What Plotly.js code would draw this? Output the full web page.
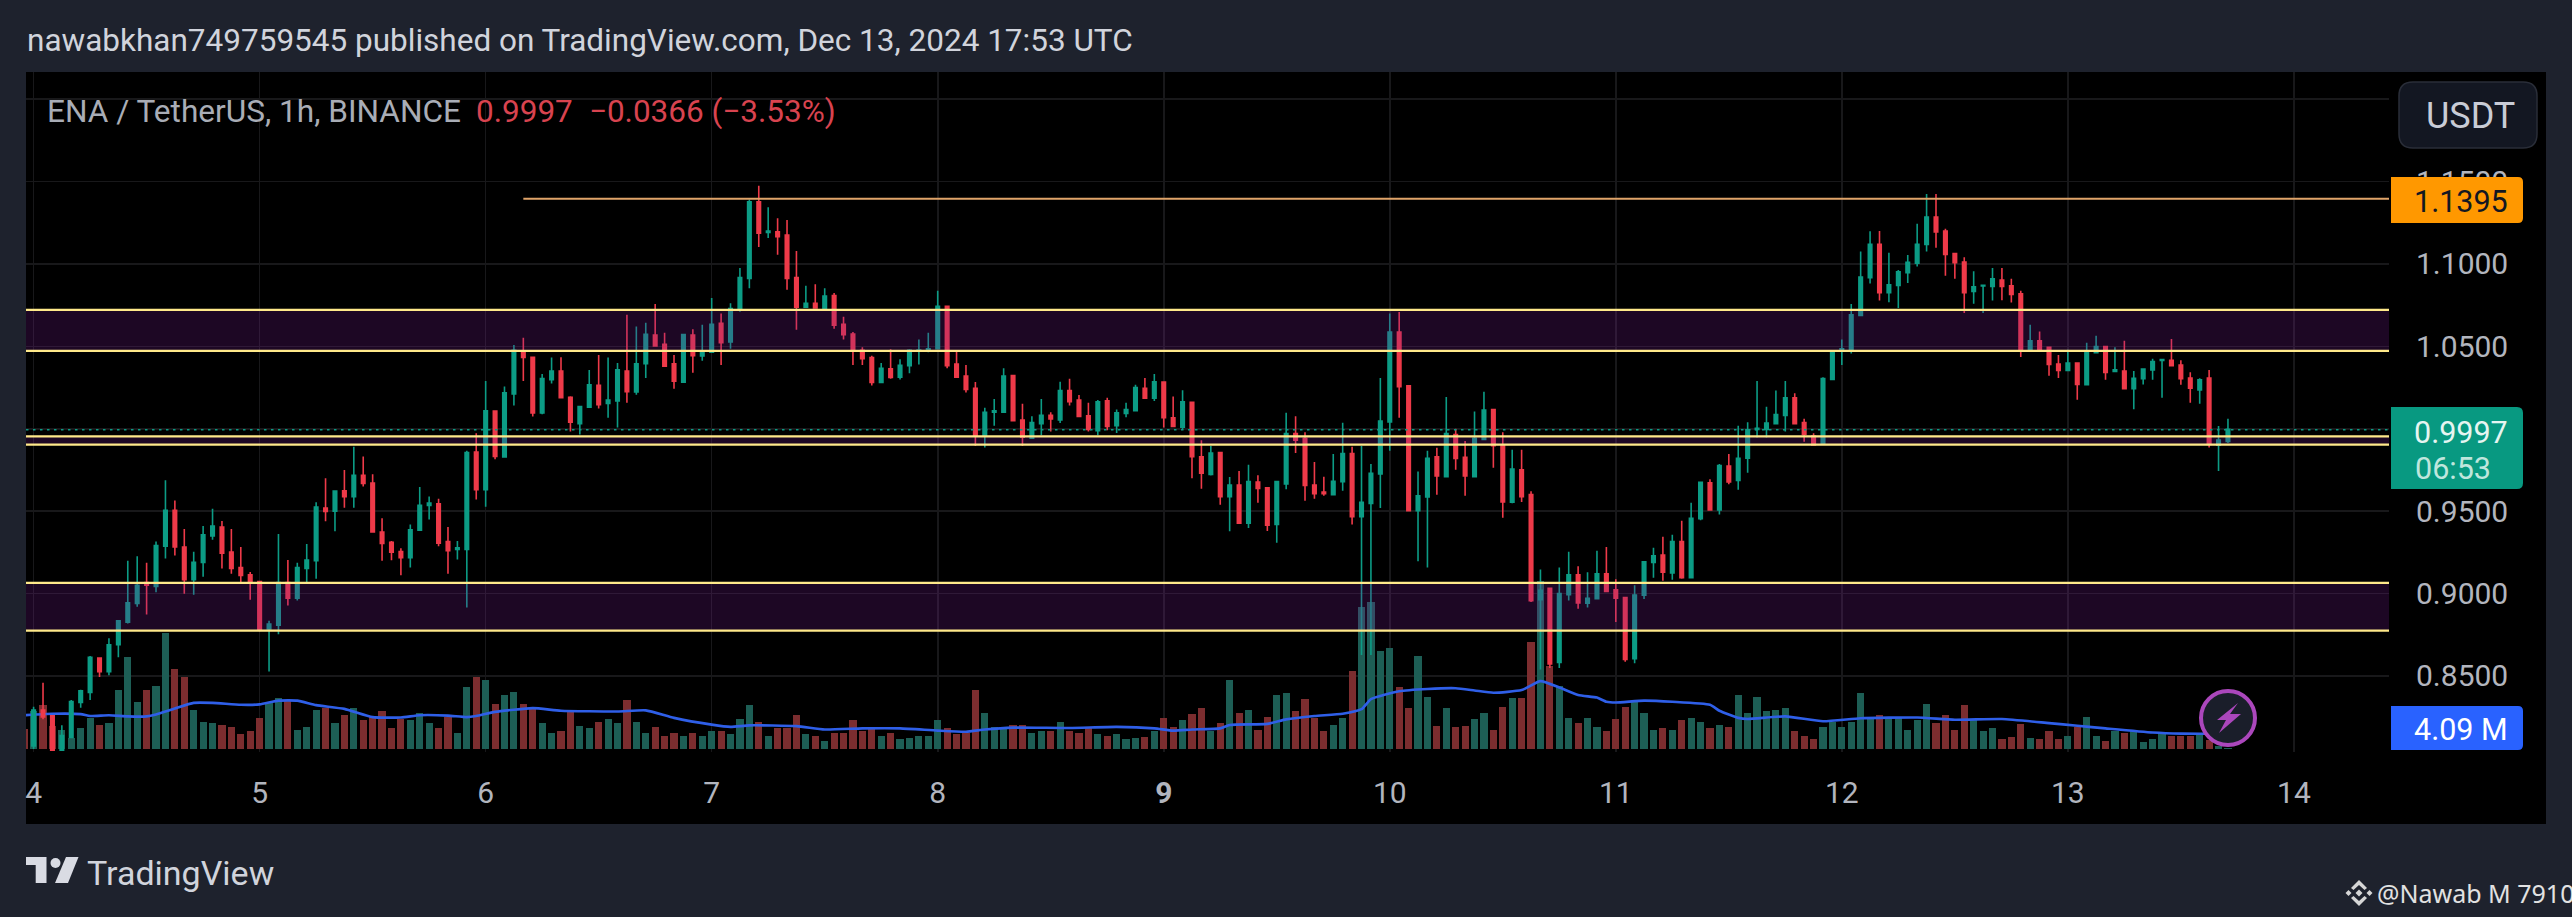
<!DOCTYPE html>
<html><head><meta charset="utf-8">
<script src="https://cdn.plot.ly/plotly-3.0.1.min.js"></script>
<style>html,body{margin:0;padding:0;background:#1e222d;overflow:hidden}#c{width:2572px;height:917px}</style>
</head><body><div id="c"></div>
<script>
const open=[.8075,.8293,.8258,.8049,.8126,.8339,.8399,.8608,.8525,.8689,.8826,.8939,.9066,.9043,.9287,.9505,.9282,.9083,.9189,.9349,.9403,.9252,.9157,.9113,.9073,.8785,.8808,.9066,.8971,.9152,.9199,.9519,.9500,.9623,.9588,.9718,.9670,.9373,.9310,.9254,.9217,.9384,.9535,.9544,.9315,.9268,.9268,.9858,.9630,1.0107,.9828,1.0211,1.0471,1.0434,1.0095,1.0297,1.0350,1.0190,1.0030,1.0130,1.0264,1.0153,1.0169,1.0350,1.0223,1.0394,1.0568,1.0513,1.0394,1.0283,1.0568,1.0441,1.0464,1.0640,1.0527,1.0721,1.0912,1.1377,1.1191,1.1195,1.1175,1.0917,1.0738,1.0761,1.0731,1.0808,1.0634,1.0575,1.0476,1.0432,1.0281,1.0364,1.0313,1.0383,1.0471,1.0476,1.0485,1.0743,1.0392,1.0320,1.0246,.9956,1.0100,1.0100,1.0322,1.0053,.9942,1.0030,1.0081,1.0053,1.0232,1.0174,1.0079,.9988,1.0169,1.0018,1.0093,1.0109,1.0246,1.0185,1.0283,1.0067,1.0009,1.0160,.9830,.9723,.9856,.9588,.9658,.9426,.9677,.9642,.9419,.9665,.9970,.9942,.9658,.9616,.9600,.9679,.9849,.9466,.9547,.9726,1.0041,1.0587,1.0260,.9503,.9586,.9830,.9709,.9965,.9826,.9709,.9935,1.0116,.9902,.9554,.9751,.9600,.8962,.9031,.8581,.8992,.9113,.8941,.8969,.9120,.9022,.8976,.8604,.8990,.9189,.9233,.9124,.9315,.9096,.9454,.9672,.9507,.9774,.9686,.9821,.9995,.9995,1.0030,1.0081,1.0188,1.0037,.9956,.9907,1.0299,1.0476,1.0478,1.0687,1.0917,1.1119,1.0826,1.0870,1.0947,1.1005,1.1119,1.1284,1.1200,1.1063,1.1012,1.0833,1.0866,1.0863,1.0903,1.0868,1.0819,1.0473,1.0534,1.0494,1.0392,1.0353,1.0399,1.0267,1.0462,1.0499,1.0348,1.0350,1.0243,1.0304,1.0357,1.0415,1.0415,1.0387,1.0308,1.0236,1.0308,.9900,.9923];
const close=[.8293,.8251,.8049,.8138,.8344,.8409,.8613,.8525,.8688,.8834,.8943,.9050,.9050,.9291,.9505,.9282,.9083,.9189,.9356,.9410,.9245,.9152,.9110,.9069,.8781,.8815,.9066,.8971,.9157,.9203,.9524,.9498,.9621,.9588,.9718,.9668,.9373,.9303,.9250,.9217,.9387,.9535,.9549,.9305,.9259,.9277,.9856,.9630,1.0109,.9832,1.0218,1.0476,1.0432,1.0095,1.0304,1.0350,1.0188,1.0039,1.0134,1.0267,1.0146,1.0174,1.0357,1.0225,1.0394,1.0573,1.0503,1.0380,1.0288,1.0571,1.0443,1.0464,1.0634,1.0522,1.0729,1.0917,1.1377,1.1186,1.1200,1.1165,1.0912,1.0738,1.0761,1.0733,1.0805,1.0629,1.0571,1.0476,1.0425,1.0281,1.0367,1.0311,1.0385,1.0476,1.0478,1.0485,1.0743,1.0383,1.0313,1.0239,.9956,1.0100,1.0109,1.0320,1.0048,.9949,1.0037,1.0081,1.0060,1.0232,1.0164,1.0074,.9995,1.0164,1.0014,1.0097,1.0116,1.0250,1.0185,1.0285,1.0067,1.0014,1.0164,.9830,.9730,.9853,.9588,.9658,.9426,.9679,.9637,.9414,.9679,.9970,.9930,.9656,.9605,.9605,.9681,.9849,.9466,.9554,.9730,1.0046,1.0587,1.0255,.9503,.9593,.9821,.9714,.9970,.9819,.9714,.9942,1.0113,.9897,.9556,.9756,.9588,.8957,.9020,.8572,.8999,.9113,.8943,.8971,.9120,.9013,.8971,.8600,.8990,.9192,.9229,.9129,.9315,.9096,.9456,.9675,.9507,.9777,.9677,.9821,.9993,1.0002,1.0034,1.0086,1.0188,1.0030,.9965,.9902,1.0304,1.0471,1.0485,1.0692,1.0921,1.1119,1.0826,1.0873,1.0952,1.1010,1.1119,1.1284,1.1195,1.1058,1.1007,1.0826,1.0861,1.0870,1.0910,1.0863,1.0815,1.0476,1.0534,1.0483,1.0390,1.0353,1.0399,1.0269,1.0473,1.0499,1.0341,1.0357,1.0243,1.0306,1.0362,1.0408,1.0420,1.0383,1.0304,1.0246,1.0297,.9904,.9932,.9997];
const high=[.8312,.8458,.8258,.8200,.8353,.8416,.8620,.8613,.8729,.8834,.9199,.9226,.9187,.9315,.9688,.9565,.9391,.9254,.9410,.9514,.9440,.9391,.9282,.9131,.9078,.8834,.9361,.9203,.9187,.9301,.9554,.9700,.9623,.9749,.9891,.9832,.9723,.9456,.9319,.9275,.9419,.9647,.9588,.9575,.9403,.9319,.9867,.9972,1.0290,1.0109,1.0257,1.0508,1.0552,1.0434,1.0332,1.0432,1.0434,1.0197,1.0137,1.0357,1.0448,1.0432,1.0399,1.0692,1.0620,1.0643,1.0757,1.0582,1.0448,1.0575,1.0603,1.0631,1.0794,1.0699,1.0761,1.0975,1.1391,1.1474,1.1344,1.1277,1.1267,1.1079,1.0868,1.0877,1.0852,1.0824,1.0680,1.0587,1.0494,1.0443,1.0399,1.0483,1.0422,1.0483,1.0541,1.0582,1.0838,1.0743,1.0471,1.0387,1.0283,1.0127,1.0181,1.0367,1.0325,1.0151,1.0076,1.0181,1.0100,1.0285,1.0304,1.0204,1.0158,1.0174,1.0188,1.0116,1.0158,1.0267,1.0308,1.0332,1.0285,1.0195,1.0234,1.0162,.9930,.9895,.9858,.9707,.9744,.9781,.9718,.9644,.9681,1.0097,1.0076,.9979,.9798,.9709,.9846,1.0037,.9891,.9895,.9786,1.0308,1.0699,1.0708,1.0262,.9740,.9867,.9884,1.0192,1.0000,.9925,1.0104,1.0225,1.0118,.9979,.9872,.9872,.9621,.9145,.9031,.9157,.9254,.9166,.9129,.9259,.9282,.9087,.8978,.9050,.9194,.9277,.9345,.9356,.9442,.9551,.9677,.9693,.9786,.9846,1.0018,1.0039,1.0290,1.0134,1.0232,1.0290,1.0216,1.0060,.9972,1.0313,1.0476,1.0541,1.0757,1.1075,1.1198,1.1200,1.1068,1.0963,1.1054,1.1244,1.1425,1.1425,1.1214,1.1068,1.1040,1.0956,1.0873,1.0975,1.0975,1.0910,1.0838,1.0631,1.0590,1.0499,1.0448,1.0480,1.0399,1.0522,1.0564,1.0501,1.0494,1.0534,1.0350,1.0367,1.0425,1.0425,1.0545,1.0415,1.0343,1.0306,1.0357,1.0016,1.0060];
const low=[.8056,.8237,.8044,.8044,.8121,.8307,.8353,.8493,.8504,.8613,.8818,.8920,.8873,.9008,.9212,.9231,.8999,.8992,.9101,.9326,.9152,.9120,.9069,.8962,.8771,.8527,.8753,.8927,.8957,.9066,.9089,.9438,.9377,.9521,.9521,.9649,.9368,.9199,.9201,.9110,.9157,.9384,.9449,.9287,.9120,.9206,.8915,.9570,.9526,.9814,.9826,1.0141,1.0290,1.0074,1.0088,1.0274,1.0183,.9983,.9965,1.0127,1.0123,1.0067,1.0007,1.0158,1.0206,1.0308,1.0501,1.0376,1.0243,1.0281,1.0339,1.0413,1.0462,1.0387,1.0485,1.0710,1.0852,1.1103,1.1158,1.1056,1.0843,1.0601,1.0733,1.0731,1.0726,1.0606,1.0541,1.0387,1.0387,1.0262,1.0278,1.0304,1.0299,1.0336,1.0390,1.0464,1.0483,1.0367,1.0308,1.0220,.9895,.9886,1.0018,1.0097,1.0046,.9895,.9939,.9960,.9983,1.0034,1.0141,1.0072,.9983,.9960,.9990,.9974,1.0069,1.0109,1.0181,1.0169,1.0007,1.0011,.9995,.9700,.9635,.9716,.9538,.9377,.9424,.9398,.9551,.9380,.9308,.9633,.9853,.9563,.9575,.9593,.9598,.9623,.9419,.8627,.8627,.9519,.9867,1.0067,.9500,.9196,.9157,.9600,.9705,.9751,.9593,.9707,.9932,.9763,.9459,.9547,.9556,.8948,.8539,.8548,.8548,.8957,.8908,.8915,.8964,.9010,.8827,.8586,.8576,.8966,.9096,.9078,.9083,.9089,.9092,.9445,.9503,.9480,.9663,.9630,.9733,.9946,.9946,1.0025,.9983,1.0025,.9921,.9897,.9904,1.0297,1.0387,1.0457,1.0685,1.0882,1.0778,1.0768,1.0733,1.0884,1.0984,1.1075,1.1098,1.0928,1.0910,1.0703,1.0759,1.0703,1.0778,1.0780,1.0766,1.0436,1.0471,1.0471,1.0322,1.0308,1.0350,1.0176,1.0264,1.0457,1.0297,1.0346,1.0243,1.0118,1.0269,1.0297,1.0188,1.0378,1.0267,1.0158,1.0151,.9886,.9744,.9914];
// volume in millions; the first value is the partly visible bar before the first candle
const volume=[5.4,10.0,11.8,6.1,5.2,2.9,5.6,8.2,6.4,7.0,15.6,24.6,12.4,15.6,16.9,30.8,21.4,19.2,10.5,7.3,7.0,6.5,5.9,4.0,4.9,8.2,12.2,13.5,12.9,5.2,6.0,10.3,11.0,6.8,9.0,10.8,7.7,8.4,10.0,5.5,7.9,7.7,9.7,6.8,5.7,8.5,4.4,16.4,19.1,18.4,12.1,14.3,15.3,12.1,11.0,6.8,4.4,4.9,10.3,6.2,5.7,7.3,7.9,7.0,13.0,7.3,4.4,6.0,3.6,4.2,3.6,4.2,3.4,4.7,4.7,4.0,7.9,11.6,7.2,3.6,5.5,5.7,9.0,4.0,3.6,2.2,4.2,4.4,7.7,4.7,5.5,3.6,4.2,2.6,2.9,3.6,3.4,7.7,5.5,4.0,4.4,15.6,9.5,5.9,5.5,6.5,6.5,4.4,4.9,4.9,7.3,4.7,4.4,5.5,4.0,3.6,4.0,2.6,2.9,3.1,4.9,8.2,6.0,7.7,9.2,10.8,4.9,7.0,18.4,9.7,10.5,5.2,8.4,14.5,14.8,10.0,13.2,8.2,4.9,6.5,8.2,20.9,37.9,39.1,26.2,27.0,16.4,10.8,24.9,13.8,6.2,11.0,6.0,6.2,7.9,9.7,5.2,11.3,13.5,13.5,28.4,44.7,22.2,16.9,8.2,7.0,8.2,6.0,4.9,7.9,11.3,12.5,9.7,5.2,5.5,5.2,7.7,8.2,7.3,5.5,6.5,6.0,14.3,9.5,13.8,10.0,10.5,10.8,4.9,3.4,2.8,6.0,7.3,6.0,7.3,14.8,7.9,9.0,8.2,8.4,5.2,7.7,12.1,7.0,9.0,5.2,11.8,7.7,4.9,5.7,2.6,3.1,6.6,2.9,2.6,4.9,2.6,3.6,5.9,8.4,3.6,2.1,4.9,4.4,4.9,2.0,2.6,4.1,3.6,3.6,3.4,3.7,2.3,0.8,0.4];
// volume moving average, read at these hours after Dec 4 00:00
const maHours=[-1,2,5,6,8,10,12,13,15,17,19,22,24,26,28,30,33,36,39,41,44,46,47,49,53,56,62,65,68,72,74,76,81,84,88,92,96,99,101,104,110,115,119,121,123,126,127,131,133,136,139,141,142,145,148,151,153,155,158,160,162,164,166,167,168,171,174,178,179,181,182,186,190,194,200,204,209,214,217,220,225,228,233];
const maValues=[9.0,9.4,9.3,8.8,9.0,8.7,8.7,9.2,10.8,12.3,12.3,11.8,11.9,12.9,12.9,11.7,10.7,8.5,8.4,9.0,8.9,8.5,8.8,9.9,10.9,10.2,10.0,10.3,8.3,6.5,5.9,6.3,6.1,5.2,5.5,5.5,4.9,4.6,5.2,5.7,5.6,5.9,5.5,4.9,5.2,5.5,6.4,6.7,7.9,8.8,9.4,10.6,13.3,15.4,16.0,16.2,15.6,15.0,15.7,18.1,16.4,14.4,13.7,12.6,12.4,12.9,12.6,11.8,10.2,8.3,8.0,8.7,7.4,8.2,8.4,7.8,8.0,6.9,6.2,5.5,4.4,4.1,4.09];
const dayTickHours=[0,24,48,72,96,120,144,168,192,216,240];
const dayLabels=['4','5','6','7','8','<b>9</b>','10','11','12','13','14'];
const priceTicks=[0.85,0.9,0.95,1.0,1.05,1.1,1.15,1.2];
const priceLabels=['0.8500','0.9000','0.9500','','1.0500','1.1000','1.1500',''];
const zoneBands=[[1.0473,1.0721],[.9904,.9953],[.8775,.9065]];
const resistance=1.1395, resistanceStartHour=52, lastPrice=0.9994;

const UP='#0c9c85', DOWN='#ee3a49', L=26,R=2389,T=72,B=752;
const hours=open.map((_,i)=>i);
const px=x=>(x-L)/(R-L), py=y=>(B-y)/(B-T);
const volHours=volume.map((_,i)=>i-1);
const volColors=volume.map((_,i)=>{const k=i-1;return (k>=0&&close[k]>=open[k])?'#1d5e55':'#7c2d2f';});

function rectPath(x0,y0,x1,y1,r){ // right-rounded chrome tag
  return `M${px(x0)},${py(y0)}L${px(x1-r)},${py(y0)}Q${px(x1)},${py(y0)} ${px(x1)},${py(y0+r)}L${px(x1)},${py(y1-r)}Q${px(x1)},${py(y1)} ${px(x1-r)},${py(y1)}L${px(x0)},${py(y1)}Z`;
}
function roundPath(x0,y0,x1,y1,r){
  return `M${px(x0+r)},${py(y0)}L${px(x1-r)},${py(y0)}Q${px(x1)},${py(y0)} ${px(x1)},${py(y0+r)}L${px(x1)},${py(y1-r)}Q${px(x1)},${py(y1)} ${px(x1-r)},${py(y1)}L${px(x0+r)},${py(y1)}Q${px(x0)},${py(y1)} ${px(x0)},${py(y1-r)}L${px(x0)},${py(y0+r)}Q${px(x0)},${py(y0)} ${px(x0+r)},${py(y0)}Z`;
}
function poly(pts){return 'M'+pts.map(p=>px(p[0])+','+py(p[1])).join('L')+'Z';}
const chrome=(path,fill,extra)=>Object.assign({type:'path',xref:'paper',yref:'paper',path,fillcolor:fill,line:{width:0},layer:'above'},extra||{});

const shapes=[];
// black canvas
shapes.push({type:'rect',xref:'paper',yref:'paper',x0:px(26),x1:px(2546),y0:py(72),y1:py(824),fillcolor:'#000',line:{width:0},layer:'below'});
zoneBands.forEach(b=>{
  shapes.push({type:'rect',xref:'paper',yref:'y2',x0:0,x1:1,y0:b[0],y1:b[1],fillcolor:'rgba(120,30,150,0.24)',line:{width:0},layer:'above'});
  b.forEach(v=>shapes.push({type:'line',xref:'paper',yref:'y2',x0:0,x1:1,y0:v,y1:v,line:{color:'#ffe98a',width:2.2},layer:'above'}));
});
shapes.push({type:'line',xref:'x',yref:'y2',x0:resistanceStartHour,x1:251,y0:resistance,y1:resistance,line:{color:'#e0a46a',width:2},layer:'above'});
shapes.push({type:'line',xref:'paper',yref:'y2',x0:0,x1:1,y0:lastPrice,y1:lastPrice,line:{color:'#0c9c85',width:1.5,dash:'2.5px,4.5px'},layer:'above'});
// price tags and button
shapes.push(chrome(rectPath(2391,177,2523,223,5),'#ff9800'));
shapes.push(chrome(rectPath(2391,407,2523,489,6),'#089981'));
shapes.push(chrome(rectPath(2391,706,2523,750,5),'#2962ff'));
shapes.push(chrome(roundPath(2399,82,2537,148,14),'#131722',{line:{color:'#2a2e39',width:1.5}}));
// lightning badge
shapes.push({type:'circle',xref:'paper',yref:'paper',x0:px(2201),x1:px(2255),y0:py(745),y1:py(691),fillcolor:'#1a1e2a',line:{color:'#ab47bc',width:4},layer:'above'});
shapes.push(chrome(poly([[2238,703],[2217,720],[2226,720],[2219,733],[2241,714],[2230,714]]),'#ab47bc'));
// TradingView logo
shapes.push(chrome(poly([[26,857],[46.5,857],[46.5,883],[35.7,883],[35.7,865],[26,865]]),'#d9dbe3'));
shapes.push({type:'circle',xref:'paper',yref:'paper',x0:px(50.5),x1:px(60.5),y0:py(868),y1:py(858),fillcolor:'#d9dbe3',line:{width:0},layer:'above'});
shapes.push(chrome(poly([[66,857],[78.5,857],[68,883],[55,883]]),'#d9dbe3'));
// Binance-style watermark glyph
const cx=2359,cy=893,g='#d6d6d6';
shapes.push(chrome(poly([[cx,cy-3.5],[cx+3.5,cy],[cx,cy+3.5],[cx-3.5,cy]]),g));
shapes.push(chrome(poly([[cx-13.5,cy],[cx-10.5,cy-3],[cx-7.5,cy],[cx-10.5,cy+3]]),g));
shapes.push(chrome(poly([[cx+13.5,cy],[cx+10.5,cy-3],[cx+7.5,cy],[cx+10.5,cy+3]]),g));
shapes.push(chrome(poly([[cx,cy-13],[cx+8,cy-5],[cx+5.5,cy-3],[cx,cy-8],[cx-5.5,cy-3],[cx-8,cy-5]]),g));
shapes.push(chrome(poly([[cx,cy+13],[cx+8,cy+5],[cx+5.5,cy+3],[cx,cy+8],[cx-5.5,cy+3],[cx-8,cy+5]]),g));

const note=(text,x,y,size,color,anchor,family)=>({text,xref:'paper',yref:'paper',x:px(x),y:py(y),xanchor:anchor||'left',yanchor:'middle',showarrow:false,align:anchor||'left',borderpad:0,font:{family:family||'Roboto',size,color}});
const annotations=[
 note('nawabkhan749759545 published on TradingView.com, Dec 13, 2024 17:53 UTC',26,41,31.5,'#d1d4dc'),
 note('ENA / TetherUS, 1h, BINANCE',46,111,31.6,'#a9adb6'),
 note('0.9997\u2002\u22120.0366 (\u22123.53%)',475,111,31.5,'#d8434f'),
 note('USDT',2470,116,36,'#c9ccd6','center'),
 note('1.1395',2509,201,30.5,'#131722','right'),
 note('0.9997',2509,432,30.5,'#e6f5f1','right'),
 note('06:53',2414,469,30.5,'#bfe6dd'),
 note('4.09 M',2509,729,30.5,'#ffffff','right'),
 note('TradingView',86,873,34,'#d1d4dc'),
 note('@Nawab M 7910',2376,893,25,'#e2e2e2','left','Noto Sans')
];

const traces=[
 {type:'bar',x:volHours,y:volume,width:0.76,marker:{color:volColors,line:{width:0}},xaxis:'x',yaxis:'y',hoverinfo:'skip'},
 {type:'scatter',mode:'lines',x:maHours,y:maValues,line:{color:'#2f5fe8',width:2.6,shape:'spline',smoothing:0.5},xaxis:'x',yaxis:'y',hoverinfo:'skip'},
 {type:'candlestick',x:hours,open,high,low,close,xaxis:'x',yaxis:'y2',whiskerwidth:0,
  increasing:{line:{color:UP,width:1.6},fillcolor:UP},decreasing:{line:{color:DOWN,width:1.6},fillcolor:DOWN},hoverinfo:'skip'}
];
const layout={
 width:2572,height:917,autosize:false,showlegend:false,
 paper_bgcolor:'#1e222d',plot_bgcolor:'rgba(0,0,0,0)',
 margin:{l:L,r:2572-R,t:T,b:917-B,pad:0},
 boxgap:0.47,bargap:0,
 font:{family:'Roboto',color:'#b2b5be'},
 xaxis:{range:[-0.807,250.1],tickmode:'array',tickvals:dayTickHours,ticktext:dayLabels,showgrid:true,gridcolor:'#18181a',gridwidth:1.6,
   zeroline:false,showline:false,ticks:'',tickfont:{size:30,color:'#b2b5be',family:'Roboto'},ticklabelstandoff:20,tickangle:0,rangeslider:{visible:false},fixedrange:true},
 yaxis:{range:[-0.8,180.5],showgrid:false,showticklabels:false,zeroline:false,showline:false,ticks:'',fixedrange:true},
 yaxis2:{overlaying:'y',side:'right',range:[0.8038,1.2165],tickmode:'array',tickvals:priceTicks,ticktext:priceLabels,showgrid:true,gridcolor:'#18181a',gridwidth:1.6,
   zeroline:false,showline:false,ticks:'',tickfont:{size:30,color:'#b2b5be',family:'Roboto'},ticklabelstandoff:26,fixedrange:true},
 shapes,annotations
};
Plotly.newPlot('c',traces,layout,{displayModeBar:false,staticPlot:true});
</script></body></html>
